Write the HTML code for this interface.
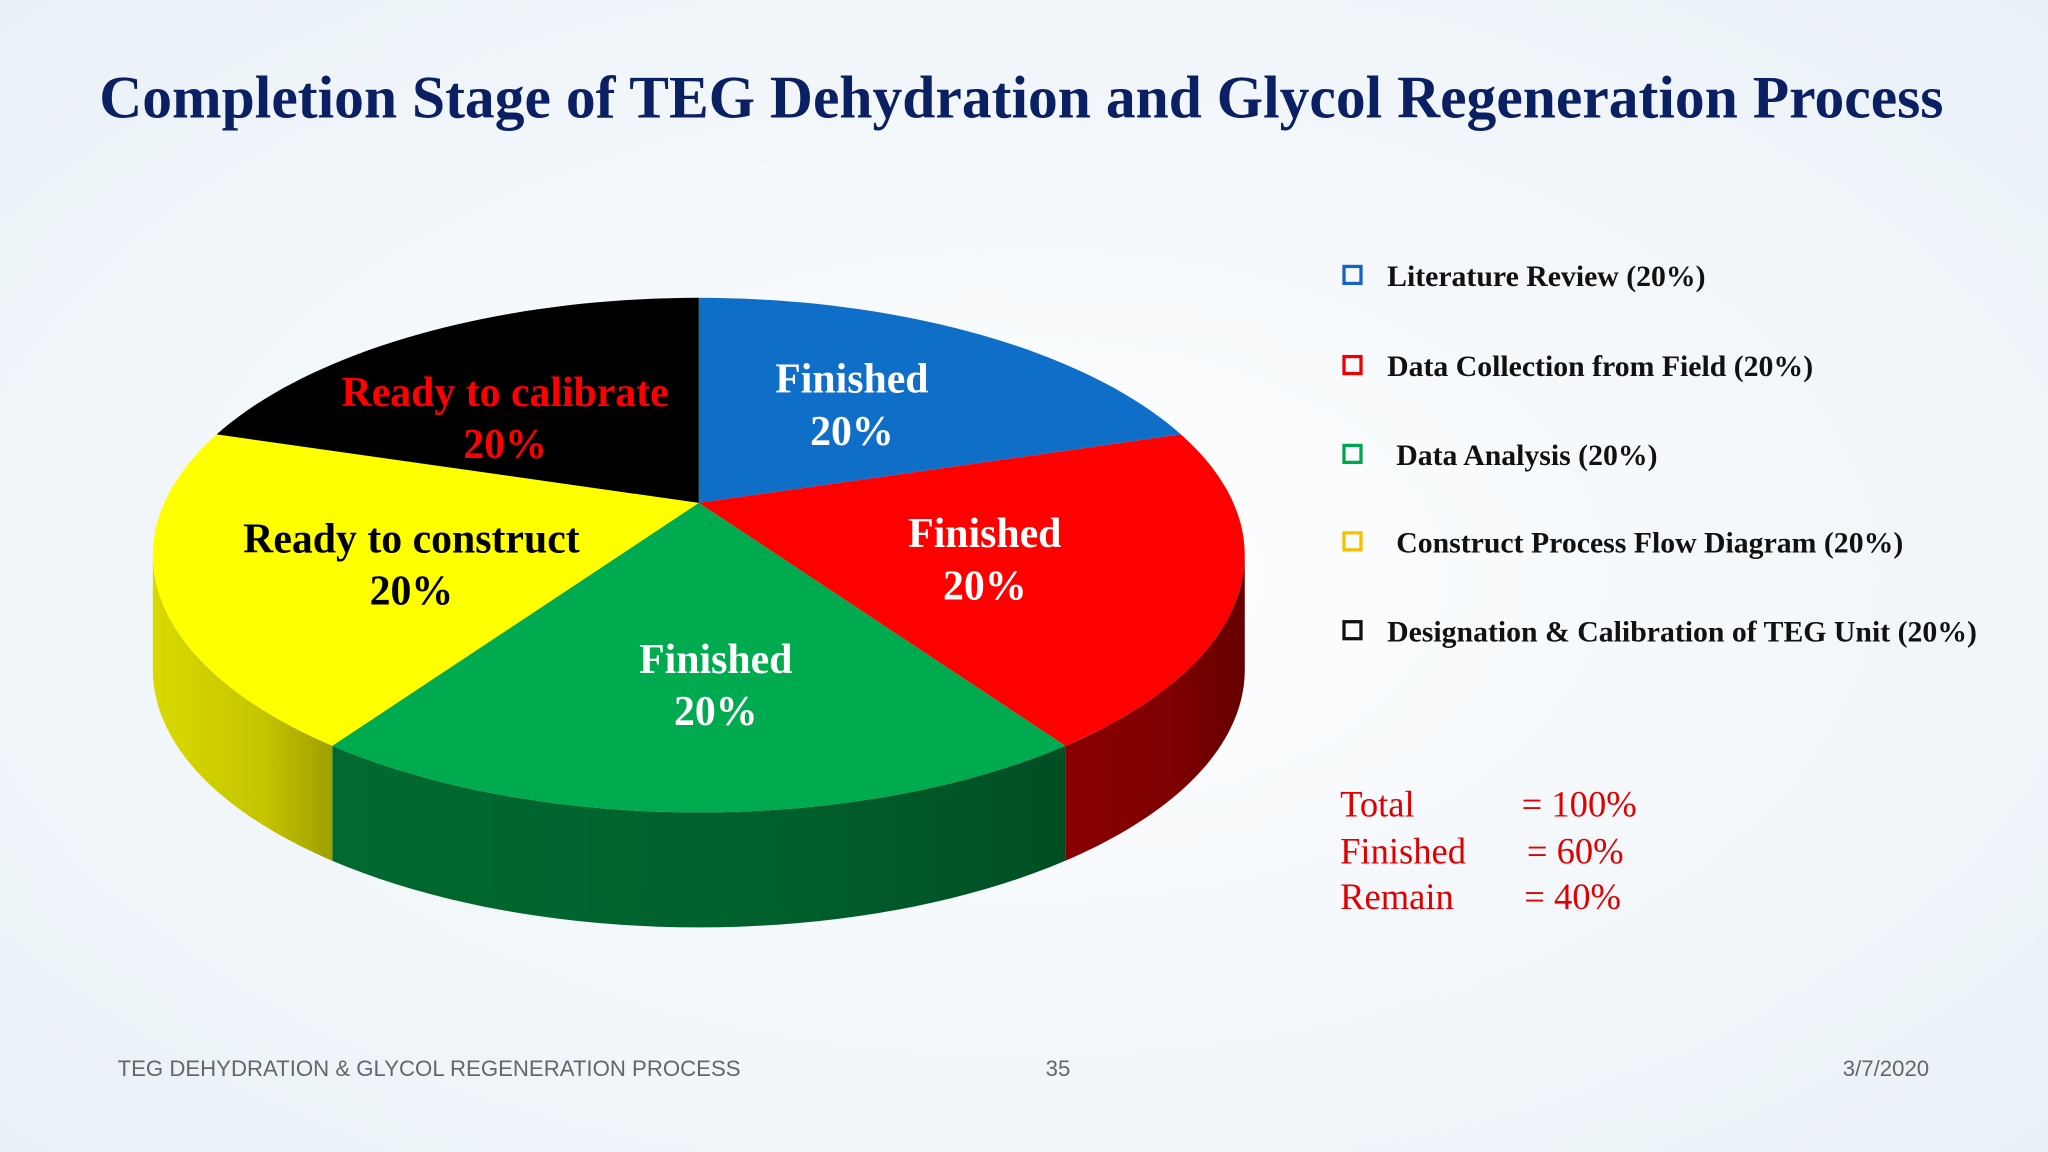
<!DOCTYPE html>
<html><head><meta charset="utf-8"><style>
html,body{margin:0;padding:0;width:2048px;height:1152px;overflow:hidden;}
body{background:linear-gradient(180deg,#f3f8fc 0%,#fbfdfe 30%,#f4f8fb 70%,#e8f0f6 100%);}
svg{display:block}
</style></head><body>
<svg id="chart" width="2048" height="1152" viewBox="0 0 1568 882" xmlns="http://www.w3.org/2000/svg">
<defs>
<radialGradient id="bg" cx="0.5" cy="0.5" r="0.7"><stop offset="0" stop-color="#ffffff"/><stop offset="1" stop-color="#e9f1f7"/></radialGradient>
<linearGradient id="shade" x1="0" y1="0" x2="1" y2="0">
<stop offset="0" stop-color="#000" stop-opacity="0"/><stop offset="0.6" stop-color="#000" stop-opacity="0.15"/><stop offset="1" stop-color="#000" stop-opacity="0.45"/></linearGradient>
</defs>
<rect width="1568" height="882" fill="url(#bg)"/>
<text x="782" y="90" text-anchor="middle" font-family="Liberation Serif, serif" font-weight="bold" font-size="46" fill="#0b1f63" textLength="1412" lengthAdjust="spacingAndGlyphs">Completion Stage of TEG Dehydration and Glycol Regeneration Process</text>
<g id="pie"></g>
<g font-family="Liberation Serif, serif" font-weight="bold" font-size="22.8" fill="#111">
<g><rect x="1029" y="204" width="13" height="13" fill="none" stroke="#1565c0" stroke-width="2.5"/><text x="1062" y="219">Literature Review (20%)</text></g>
<g><rect x="1029" y="273" width="13" height="13" fill="none" stroke="#e00" stroke-width="2.5"/><text x="1062" y="288">Data Collection from Field (20%)</text></g>
<g><rect x="1029" y="341" width="13" height="13" fill="none" stroke="#00a550" stroke-width="2.5"/><text x="1069" y="356">Data Analysis (20%)</text></g>
<g><rect x="1029" y="408" width="13" height="13" fill="none" stroke="#f5c000" stroke-width="2.5"/><text x="1069" y="423">Construct Process Flow Diagram (20%)</text></g>
<g><rect x="1029" y="476" width="13" height="13" fill="none" stroke="#111" stroke-width="2.5"/><text x="1062" y="491">Designation &amp; Calibration of TEG Unit (20%)</text></g>
</g>
<g font-family="Liberation Serif, serif" font-size="28" fill="#e00000">
<text x="1026" y="625">Total</text><text x="1165" y="625">= 100%</text>
<text x="1026" y="661">Finished</text><text x="1169" y="661">= 60%</text>
<text x="1026" y="696">Remain</text><text x="1167" y="696">= 40%</text>
</g>
<g font-family="Liberation Sans, sans-serif" font-size="17" fill="#666">
<text x="90" y="824">TEG DEHYDRATION &amp; GLYCOL REGENERATION PROCESS</text>
<text x="810" y="824" text-anchor="middle">35</text>
<text x="1477" y="824" text-anchor="end">3/7/2020</text>
</g>
</svg>
<script>
const categories=["Literature Review","Data Collection from Field","Data Analysis","Construct Process Flow Diagram","Designation & Calibration of TEG Unit"];
const values=[20,20,20,20,20];
const sliceLabels=["Finished","Finished","Finished","Ready to construct","Ready to calibrate"];
const valueLabels=["20%","20%","20%","20%","20%"];
const colors=["#0f6ec8","#ff0000","#00aa4e","#ffff00","#000000"];
const sideColors=["#0a4f92","#8a0000","#006a30","#d9d900","#222"];
const labelColors=["#fff","#fff","#fff","#000","#ff0000"];
const valueColors=["#fff","#fff","#fff","#000","#ff0000"];
const labelNudgeX=[3,11,13,-12,-34];
const labelNudgeY=[-10,1,19,5,0];
const NS="http://www.w3.org/2000/svg";
const g=document.getElementById('pie');
const cx=535,cy=425,rx=418,ry=197,ax=535,ay=385,depth=88;
const total=values.reduce((a,b)=>a+b,0);
const persp=10.5*Math.PI/180;
function proj(phi){return phi-persp*Math.cos(phi);}
function pt(t,dy){return [cx+rx*Math.cos(t),cy+ry*Math.sin(t)+(dy||0)];}
let angs=[];let a=-Math.PI/2;
values.forEach(v=>{const s=a;a+=v/total*2*Math.PI;angs.push([proj(s),proj(a)]);});
function arc(t0,t1,dy){let d="";const n=40;for(let i=0;i<=n;i++){const t=t0+(t1-t0)*i/n;const p=pt(t,dy);d+=(i?"L":"")+p[0].toFixed(1)+","+p[1].toFixed(1);}return d;}
angs.forEach((r,i)=>{
  let ranges=[];
  for(const off of [0,2*Math.PI,-2*Math.PI]){const s=Math.max(r[0],0+off),e=Math.min(r[1],Math.PI+off);if(e>s)ranges.push([s,e]);}
  ranges.forEach(([s,e])=>{
    const p=document.createElementNS(NS,'path');
    let d="M"+arc(s,e,0);
    let back="";const n=40;for(let k=n;k>=0;k--){const t=s+(e-s)*k/n;const q=pt(t,depth);back+="L"+q[0].toFixed(1)+","+q[1].toFixed(1);}
    p.setAttribute('d',d+back+"Z");p.setAttribute('fill',sideColors[i]);
    
    
    g.appendChild(p);
    const sh=document.createElementNS(NS,'path');sh.setAttribute('d',d+back+"Z");sh.setAttribute('fill','url(#shade)');sh.setAttribute('opacity','0.6');
    
    
    g.appendChild(sh);
  });
});
angs.forEach((r,i)=>{
  const p=document.createElementNS(NS,'path');
  p.setAttribute('d',"M"+ax+","+ay+"L"+arc(r[0],r[1],0)+"Z");
  p.setAttribute('fill',colors[i]);
  
  
  g.appendChild(p);
});
angs.forEach((r,i)=>{
  let sx=0,sy=0,A=0;const pts=[[ax,ay]];const n=30;
  for(let k=0;k<=n;k++){pts.push(pt(r[0]+(r[1]-r[0])*k/n,0));}
  for(let k=0;k<pts.length;k++){const p0=pts[k],p1=pts[(k+1)%pts.length];const c=p0[0]*p1[1]-p1[0]*p0[1];A+=c;sx+=(p0[0]+p1[0])*c;sy+=(p0[1]+p1[1])*c;}
  const gx=sx/(3*A),gy=sy/(3*A);
  const lx=ax+0.82*(gx-ax)+labelNudgeX[i], ly=ay+0.82*(gy-ay)+labelNudgeY[i];
  const t=document.createElementNS(NS,'text');
  t.setAttribute('x',lx);t.setAttribute('y',ly-9);t.setAttribute('text-anchor','middle');
  t.setAttribute('font-family','Liberation Serif, serif');t.setAttribute('font-weight','bold');t.setAttribute('font-size','32');
  t.setAttribute('fill',labelColors[i]);t.textContent=sliceLabels[i];
  
  
  g.appendChild(t);
  const v=document.createElementNS(NS,'text');
  v.setAttribute('x',lx);v.setAttribute('y',ly+31);v.setAttribute('text-anchor','middle');
  v.setAttribute('font-family','Liberation Serif, serif');v.setAttribute('font-weight','bold');v.setAttribute('font-size','32');
  v.setAttribute('fill',valueColors[i]);v.textContent=valueLabels[i];
  
  
  g.appendChild(v);
});
</script>
</body></html>
